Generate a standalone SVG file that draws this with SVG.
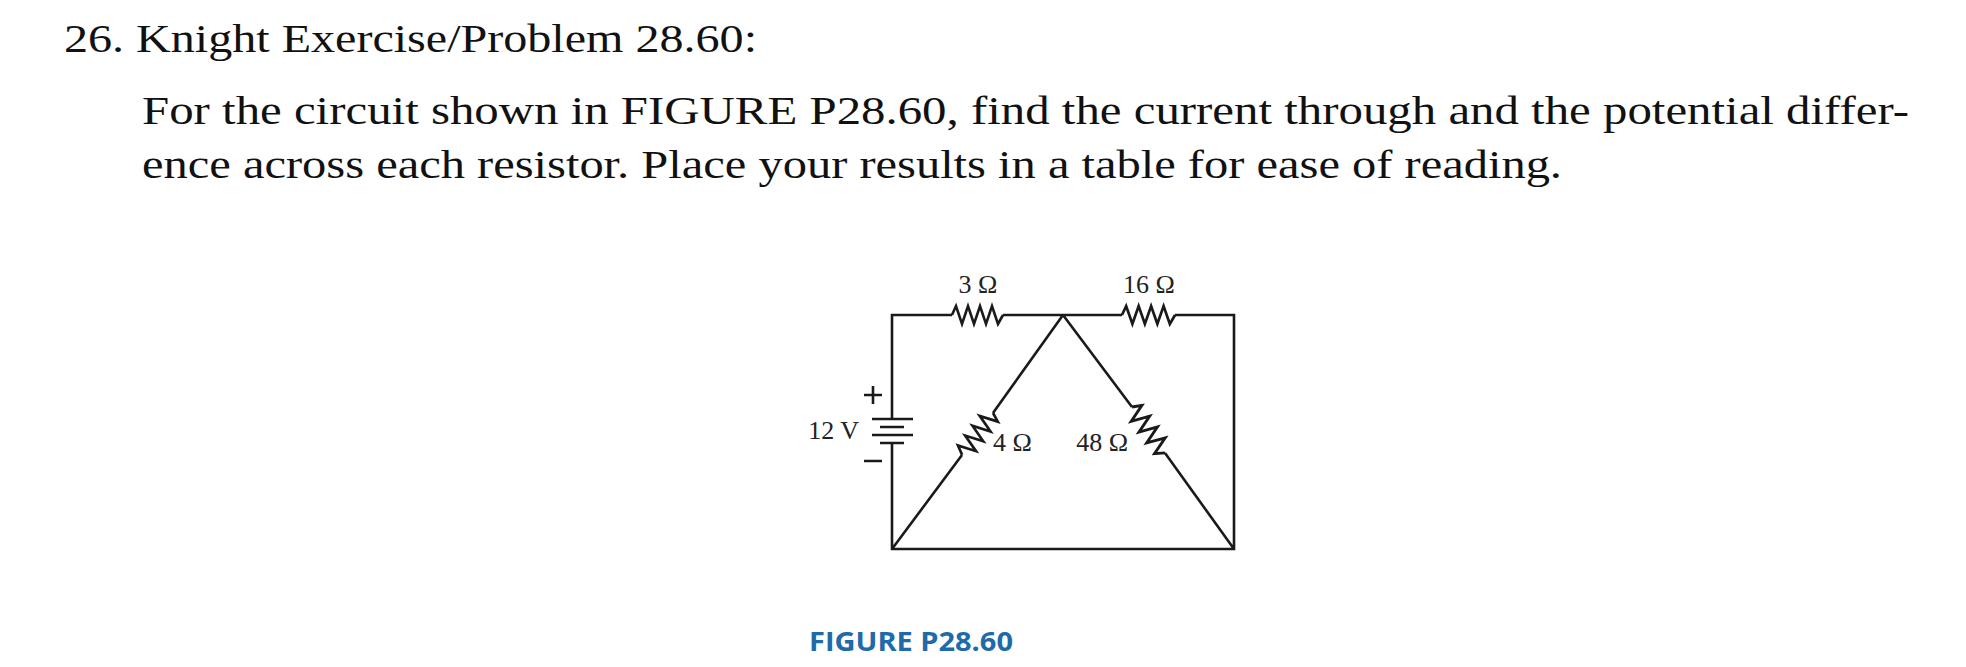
<svg xmlns="http://www.w3.org/2000/svg" width="1966" height="667" viewBox="0 0 1966 667">
<style>
.t{font-family:"Liberation Serif",serif;font-size:40px;fill:#111}
.c{font-family:"Liberation Serif",serif;font-size:26px;fill:#222}
.w{fill:none;stroke:#1a1a1a;stroke-width:2.6;stroke-linejoin:miter}
.f{font-family:"Open Sans","Liberation Sans",sans-serif;font-weight:bold;font-size:27px;fill:#1f6aa8}
</style>
<defs>
<path id="rz" class="w" d="M0,0 l4,-9 l6,18 l6,-18 l6,18 l6,-18 l6,18 l6,-18 l6,18 l5,-9"/>
</defs>
<rect width="1966" height="667" fill="#fff"/>
<text class="t" x="64" y="52" textLength="693" lengthAdjust="spacingAndGlyphs">26. Knight Exercise/Problem 28.60:</text>
<text class="t" x="142" y="124" textLength="1767" lengthAdjust="spacingAndGlyphs">For the circuit shown in FIGURE P28.60, find the current through and the potential differ-</text>
<text class="t" x="142" y="178" textLength="1420" lengthAdjust="spacingAndGlyphs">ence across each resistor. Place your results in a table for ease of reading.</text>
<g id="connectors">
<path class="w" d="M952,315 H892 V419 M892,443 V549 H1234 V315 H1175 M1003,315 H1122 M1063,315 L993,413 M962,455 L892,549 M1063,315 L1132,407 M1165,453 L1234,549"/>
</g>
<g id="R3"><use href="#rz" transform="translate(952,315)"/><text class="c" x="978" y="293" text-anchor="middle">3 Ω</text></g>
<g id="R16"><use href="#rz" transform="translate(1122,315) scale(1.04,1)"/><text class="c" x="1149" y="293" text-anchor="middle">16 Ω</text></g>
<g id="R4"><use href="#rz" transform="translate(993,413) rotate(126.4) scale(1.02,1)"/><text class="c" x="993" y="451">4 Ω</text></g>
<g id="R48"><use href="#rz" transform="translate(1132,407) rotate(54.3) scale(1.11,1)"/><text class="c" x="1128" y="451" text-anchor="end">48 Ω</text></g>
<g id="battery">
<path class="w" d="M872,419 H913 M880,427 H904 M872,435 H913 M880,443 H904"/>
<text class="c" x="859" y="439" text-anchor="end">12 V</text>
<path class="w" d="M864,395 H882 M873,386 V404 M864,461 H882"/>
</g>
<text class="f" x="809" y="651" textLength="204" lengthAdjust="spacingAndGlyphs">FIGURE P28.60</text>
</svg>
